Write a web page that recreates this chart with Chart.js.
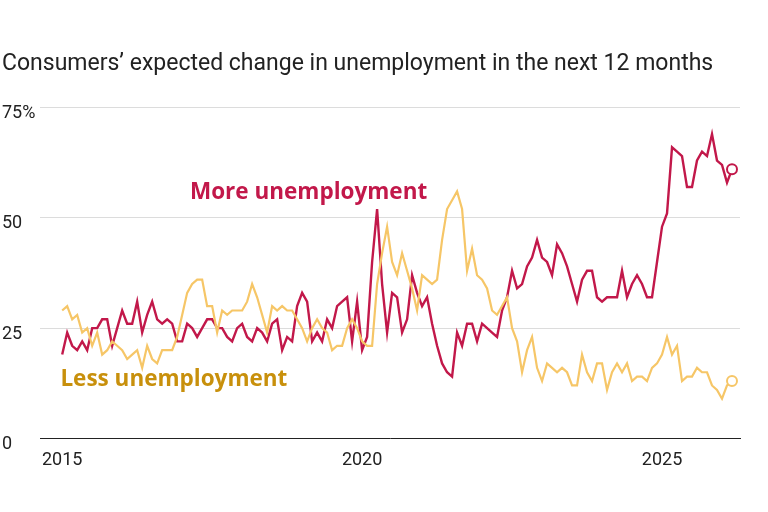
<!DOCTYPE html>
<html><head><meta charset="utf-8">
<script src="https://cdn.jsdelivr.net/npm/chart.js@4"></script>
<style>html,body{margin:0;background:#fff}#wrap{width:768px;height:512px}</style>
</head><body><div id="wrap"><canvas id="c"></canvas></div>
<script>
const startYear = 2015;
const moreUnemployment = [
  19,24,21,20,22,20,25,25,27,27,21,25,
  29,26,26,31,24,28,31,27,26,27,26,22,
  22,26,25,23,25,27,27,25,25,23,22,25,
  26,23,22,25,24,22,26,27,20,23,22,30,
  33,31,22,24,22,27,25,30,31,32,22,31,
  20,23,40,52,35,24,33,32,24,27,37,33,
  30,32,26,21,17,15,14,24,21,26,26,22,
  26,25,24,23,29,32,38,34,35,39,41,45,
  41,40,37,44,42,39,35,31,36,38,38,32,
  31,32,32,32,38,32,35,37,35,32,32,40,
  48,51,66,65,64,57,57,63,65,64,69,63,
  62,58,61
];
const lessUnemployment = [
  29,30,27,28,24,25,21,24,19,20,22,21,
  20,18,19,20,16,21,18,17,20,20,20,23,
  28,33,35,36,36,30,30,24,29,28,29,29,
  29,31,35,32,28,24,30,29,30,29,29,27,
  25,22,25,27,25,24,20,21,21,25,27,25,
  22,21,21,35,42,48,40,37,42,38,34,29,
  37,36,35,36,45,52,54,56,52,38,43,37,
  36,34,29,28,30,32,25,22,15,20,23,16,
  13,17,16,15,16,15,12,12,19,15,13,17,
  17,11,15,17,15,17,13,14,14,13,16,17,
  19,23,19,21,13,14,14,16,15,15,12,11,
  9,12,13
];
const yTicks = [0, 25, 50, 75];
const xTicks = [2015, 2020, 2025];

const toPoints = arr => arr.map((v, i) => ({ x: startYear + i / 12, y: v }));
const lastOnly = r => (r.dataIndex === r.dataset.data.length - 1 ? 5 : 0);

const labels = {
  id: 'labels',
  afterDatasetsDraw(chart) {
    const { ctx, scales: { x, y } } = chart;
    ctx.save();
    ctx.font = 'bold 22.5px "Open Sans", sans-serif';
    ctx.textBaseline = 'middle';
    ctx.fillStyle = '#c2184a';
    ctx.fillText('More unemployment', x.getPixelForValue(2017.13), y.getPixelForValue(55.8));
    ctx.fillStyle = '#c8900c';
    ctx.fillText('Less unemployment', x.getPixelForValue(2014.97), y.getPixelForValue(13.3));
    ctx.restore();
  }
};

new Chart(document.getElementById('c'), {
  type: 'line',
  data: {
    datasets: [{
      data: toPoints(lessUnemployment),
      borderColor: '#f6c667',
      borderWidth: 2.2,
      pointRadius: lastOnly,
      pointBackgroundColor: '#fff',
      pointBorderColor: '#f6c667',
      pointBorderWidth: 2
    }, {
      data: toPoints(moreUnemployment),
      borderColor: '#c2184a',
      borderWidth: 2.4,
      pointRadius: lastOnly,
      pointBackgroundColor: '#fff',
      pointBorderColor: '#c2184a',
      pointBorderWidth: 2
    }]
  },
  options: {
    responsive: true,
    maintainAspectRatio: false,
    animation: false,
    layout: { padding: { left: 2, right: 28, top: 0, bottom: 38 } },
    plugins: {
      legend: { display: false },
      tooltip: { enabled: false },
      title: {
        display: true,
        text: 'Consumers\u2019 expected change in unemployment in the next 12 months',
        align: 'start',
        color: '#222',
        font: { family: 'Roboto', size: 23, weight: '400' },
        padding: { top: 50, bottom: 30 }
      }
    },
    scales: {
      x: {
        type: 'linear',
        min: 2014.63,
        max: 2026.3,
        afterBuildTicks: s => { s.ticks = xTicks.map(v => ({ value: v })); },
        grid: { display: false, drawTicks: true, tickLength: 8 },
        border: { display: true, color: '#222' },
        ticks: {
          color: '#222',
          font: { family: 'Roboto', size: 18 },
          callback: v => String(v)
        }
      },
      y: {
        min: 0,
        max: 75,
        afterFit: s => { s.width = 38; },
        afterBuildTicks: s => { s.ticks = yTicks.map(v => ({ value: v })); },
        grid: { color: '#dcdcdc', drawTicks: false },
        border: { display: false },
        ticks: {
          color: '#222',
          font: { family: 'Roboto', size: 18 },
          align: 'start',
          crossAlign: 'far',
          padding: 2,
          labelOffset: -3,
          callback: v => (v === 75 ? '75%' : String(v))
        }
      }
    }
  },
  plugins: [labels]
});
</script></body></html>
